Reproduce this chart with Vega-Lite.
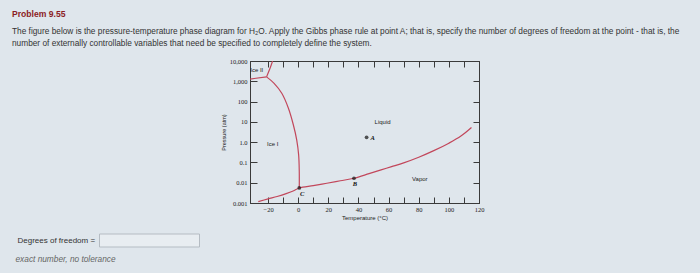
{
  "$schema": "https://vega.github.io/schema/vega-lite/v6.json",
  "width": 229,
  "height": 142,
  "autosize": {"type": "none"},
  "padding": {"left": 250, "top": 61, "right": 221, "bottom": 70},
  "background": "#dfe6ec",
  "config": {
    "view": {"stroke": "#3a3a3a", "strokeWidth": 1},
    "axis": {
      "grid": false,
      "domainColor": "#3a3a3a",
      "tickColor": "#3a3a3a",
      "labelFont": "Liberation Serif",
      "labelFontSize": 6.5,
      "labelColor": "#222",
      "titleFont": "Liberation Sans",
      "titleFontSize": 6,
      "titleFontWeight": "normal",
      "titleColor": "#222",
      "labelFlush": false
    }
  },
  "title": {
    "text": "Problem 9.55",
    "subtitle": [
      "The figure below is the pressure-temperature phase diagram for H₂O. Apply the Gibbs phase rule at point A; that is, specify the number of degrees of freedom at the point - that is, the",
      "number of externally controllable variables that need be specified to completely define the system."
    ],
    "anchor": "start",
    "frame": "group",
    "dx": -238,
    "offset": 11,
    "font": "Liberation Sans",
    "fontSize": 8.6,
    "fontWeight": "bold",
    "color": "#8b1c24",
    "subtitleFont": "Liberation Sans",
    "subtitleFontSize": 8.3,
    "subtitleColor": "#333",
    "subtitleLineHeight": 11.6,
    "subtitlePadding": 9
  },
  "datasets": {
    "curves": [
      {"series": "vapor", "i": 1, "T": -26.5, "P": 0.00117},
      {"series": "vapor", "i": 2, "T": -20, "P": 0.0016},
      {"series": "vapor", "i": 3, "T": -14, "P": 0.0021},
      {"series": "vapor", "i": 4, "T": -8, "P": 0.0029},
      {"series": "vapor", "i": 5, "T": -3, "P": 0.004},
      {"series": "vapor", "i": 6, "T": 0.7, "P": 0.0055},
      {"series": "vapor", "i": 7, "T": 10, "P": 0.0072},
      {"series": "vapor", "i": 8, "T": 19, "P": 0.0094},
      {"series": "vapor", "i": 9, "T": 28, "P": 0.0125},
      {"series": "vapor", "i": 10, "T": 37, "P": 0.0166},
      {"series": "vapor", "i": 11, "T": 47, "P": 0.028},
      {"series": "vapor", "i": 12, "T": 55, "P": 0.043},
      {"series": "vapor", "i": 13, "T": 62, "P": 0.062},
      {"series": "vapor", "i": 14, "T": 70, "P": 0.095},
      {"series": "vapor", "i": 15, "T": 80, "P": 0.18},
      {"series": "vapor", "i": 16, "T": 90, "P": 0.38},
      {"series": "vapor", "i": 17, "T": 100, "P": 0.89},
      {"series": "vapor", "i": 18, "T": 108, "P": 2.0},
      {"series": "vapor", "i": 19, "T": 115, "P": 5.3},
      {"series": "melt", "i": 1, "T": -21, "P": 1650},
      {"series": "melt", "i": 2, "T": -16, "P": 795},
      {"series": "melt", "i": 3, "T": -10.9, "P": 257},
      {"series": "melt", "i": 4, "T": -6.5, "P": 47},
      {"series": "melt", "i": 5, "T": -3.2, "P": 7},
      {"series": "melt", "i": 6, "T": -1.0, "P": 1.3},
      {"series": "melt", "i": 7, "T": 0.3, "P": 0.23},
      {"series": "melt", "i": 8, "T": 0.7, "P": 0.035},
      {"series": "melt", "i": 9, "T": 0.7, "P": 0.0055},
      {"series": "ice2", "i": 1, "T": -32, "P": 1290},
      {"series": "ice2", "i": 2, "T": -21, "P": 1650},
      {"series": "ice3", "i": 1, "T": -21, "P": 1650},
      {"series": "ice3", "i": 2, "T": -18.7, "P": 4370},
      {"series": "ice3", "i": 3, "T": -17, "P": 10000}
    ],
    "pts": [
      {"name": "A", "T": 45.4, "P": 1.74, "grp": "box"},
      {"name": "B", "T": 37, "P": 0.0166, "grp": "box"},
      {"name": "C", "T": 0.7, "P": 0.0055, "grp": "box"}
    ],
    "regions": [
      {"label": "Ice II", "T": -27.5, "P": 3600},
      {"label": "Ice I", "T": -16.9, "P": 0.79},
      {"label": "Liquid", "T": 56, "P": 10.2},
      {"label": "Vapor", "T": 80.7, "P": 0.015}
    ]
  },
  "layer": [
    {
      "data": {"name": "curves"},
      "mark": {"type": "line", "interpolate": "catmull-rom", "color": "#c2475b", "strokeWidth": 1.2, "clip": true},
      "encoding": {
        "x": {
          "field": "T", "type": "quantitative",
          "scale": {"domain": [-32, 120], "nice": false, "zero": false},
          "axis": {
            "orient": "bottom",
            "values": [-20, -10, 0, 10, 20, 30, 40, 50, 60, 70, 80, 90, 100, 110, 120],
            "labelExpr": "datum.value % 20 == 0 ? datum.label : ''",
            "tickSize": -6,
            "labelPadding": 9,
            "title": "Temperature (°C)",
            "titlePadding": 2
          }
        },
        "y": {
          "field": "P", "type": "quantitative",
          "scale": {"type": "log", "domain": [0.001, 10000], "nice": false},
          "axis": {
            "orient": "left",
            "values": [0.001, 0.01, 0.1, 1, 10, 100, 1000, 10000],
            "labelExpr": "datum.value < 0.005 ? '0.001' : datum.value < 0.05 ? '0.01' : datum.value < 0.5 ? '0.1' : datum.value < 5 ? '1.0' : datum.value < 50 ? '10' : datum.value < 500 ? '100' : datum.value < 5000 ? '1,000' : '10,000'",
            "tickSize": -7,
            "labelPadding": 10,
            "title": "Pressure (atm)",
            "titleFontSize": 5.5,
            "titlePadding": 3
          }
        },
        "detail": {"field": "series"},
        "order": {"field": "i", "type": "quantitative"}
      }
    },
    {
      "data": {"name": "pts"},
      "mark": {"type": "point", "filled": true, "size": 14, "color": "#111"},
      "encoding": {
        "x": {
          "field": "T", "type": "quantitative",
          "scale": {"domain": [-32, 120], "nice": false, "zero": false},
          "axis": {
            "orient": "top",
            "values": [-20, -10, 0, 10, 20, 30, 40, 50, 60, 70, 80, 90, 100, 110],
            "labels": false,
            "tickSize": -6,
            "title": "Degrees of freedom =",
            "titleX": -233,
            "titleY": 179,
            "titleAlign": "left",
            "titleBaseline": "middle",
            "titleFontSize": 8,
            "titleColor": "#333"
          }
        },
        "y": {
          "field": "P", "type": "quantitative",
          "scale": {"type": "log", "domain": [0.001, 10000], "nice": false},
          "axis": {
            "orient": "right",
            "values": [0.001, 0.01, 0.1, 1, 10, 100, 1000, 10000],
            "labels": false,
            "tickSize": -6,
            "title": "exact number, no tolerance",
            "titleAngle": 0,
            "titleX": -464,
            "titleY": 198,
            "titleAlign": "left",
            "titleBaseline": "middle",
            "titleFontStyle": "italic",
            "titleFontSize": 8.3,
            "titleColor": "#666"
          }
        }
      }
    },
    {
      "data": {"name": "pts"},
      "transform": [{"filter": "datum.name == 'C'"}],
      "mark": {"type": "point", "filled": true, "size": 0, "fill": "#e8edf1", "stroke": "#b5bcc3", "strokeWidth": 1, "fillOpacity": 1, "strokeOpacity": 1},
      "encoding": {
        "x": {"field": "T", "type": "quantitative", "axis": null},
        "y": {"field": "P", "type": "quantitative", "axis": null},
        "opacity": {
          "field": "grp", "type": "nominal",
          "scale": {"range": [1]},
          "legend": {
            "orient": "none",
            "legendX": -151,
            "legendY": 129,
            "title": null,
            "symbolType": "M-1,-0.13H1V0.13H-1Z",
            "symbolSize": 10000,
            "symbolStrokeWidth": 1,
            "labelExpr": "''",
            "labelFontSize": 1,
            "padding": 0,
            "symbolOffset": 0
          }
        }
      }
    },
    {
      "data": {"name": "pts"},
      "transform": [{"filter": "datum.name == 'A'"}],
      "mark": {"type": "text", "align": "left", "baseline": "middle", "dx": 4, "dy": 1, "font": "Liberation Serif", "fontStyle": "italic", "fontWeight": "bold", "fontSize": 6.5, "color": "#111"},
      "encoding": {
        "x": {"field": "T", "type": "quantitative", "axis": null},
        "y": {"field": "P", "type": "quantitative", "axis": null},
        "text": {"field": "name"}
      }
    },
    {
      "data": {"name": "pts"},
      "transform": [{"filter": "datum.name == 'B'"}],
      "mark": {"type": "text", "align": "center", "baseline": "top", "dx": 1, "dy": 3, "font": "Liberation Serif", "fontStyle": "italic", "fontWeight": "bold", "fontSize": 6.5, "color": "#111"},
      "encoding": {
        "x": {"field": "T", "type": "quantitative", "axis": null},
        "y": {"field": "P", "type": "quantitative", "axis": null},
        "text": {"field": "name"}
      }
    },
    {
      "data": {"name": "pts"},
      "transform": [{"filter": "datum.name == 'C'"}],
      "mark": {"type": "text", "align": "center", "baseline": "top", "dx": 3, "dy": 3, "font": "Liberation Serif", "fontStyle": "italic", "fontWeight": "bold", "fontSize": 6.5, "color": "#111"},
      "encoding": {
        "x": {"field": "T", "type": "quantitative", "axis": null},
        "y": {"field": "P", "type": "quantitative", "axis": null},
        "text": {"field": "name"}
      }
    },
    {
      "data": {"name": "regions"},
      "mark": {"type": "text", "align": "center", "baseline": "middle", "font": "Liberation Sans", "fontSize": 6, "color": "#222"},
      "encoding": {
        "x": {"field": "T", "type": "quantitative", "axis": null},
        "y": {"field": "P", "type": "quantitative", "axis": null},
        "text": {"field": "label"}
      }
    }
  ],
  "resolve": {"axis": {"x": "independent", "y": "independent"}}
}
